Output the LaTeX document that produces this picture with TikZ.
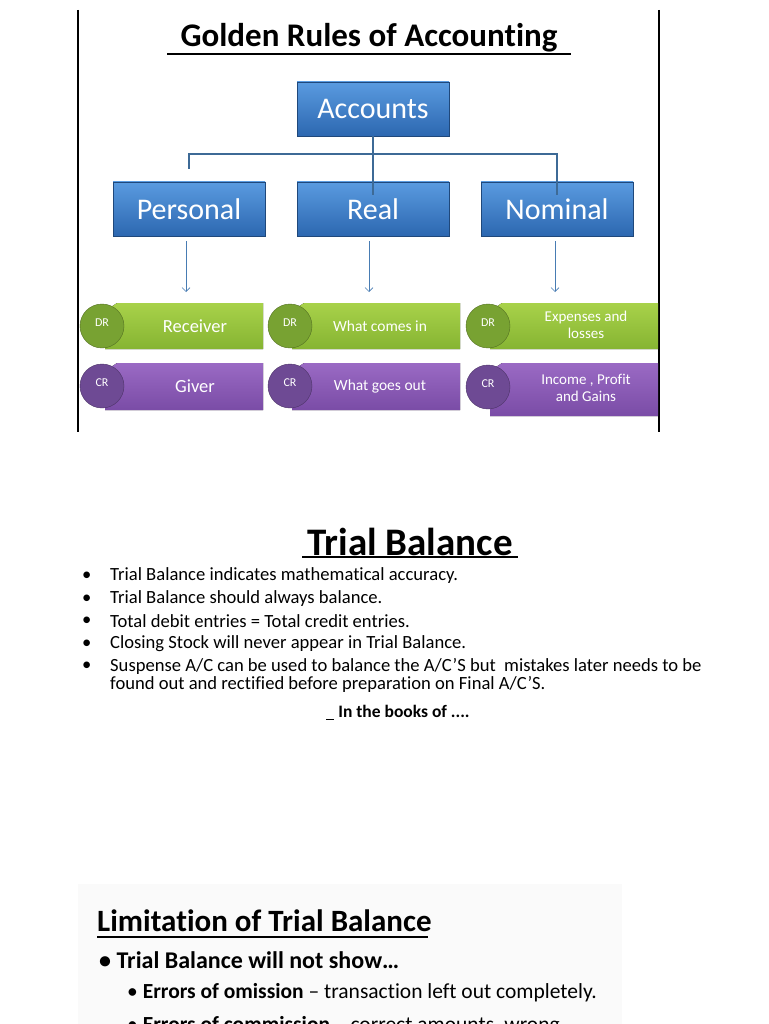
\documentclass[tikz,border=0pt]{standalone}
\usepackage{fontspec}
\setmainfont[Ligatures={NoCommon}]{Carlito}
\usetikzlibrary{arrows.meta}
\definecolor{bluetop}{HTML}{5A9BE0}
\definecolor{bluebot}{HTML}{2C67B0}
\definecolor{greentop}{HTML}{A8D24A}
\definecolor{greenbot}{HTML}{86B432}
\definecolor{purptop}{HTML}{9A6AC4}
\definecolor{purpbot}{HTML}{7A4CA6}
\definecolor{gcirc}{HTML}{78A232}
\definecolor{pcirc}{HTML}{6E4A94}
\definecolor{linec}{HTML}{3D6A96}
\tikzset{
  acc/.style={draw=bluebot!70!black, top color=bluetop, bottom color=bluebot, text=white, minimum width=152pt, minimum height=54pt, inner sep=0pt, font=\fontsize{30}{32}\selectfont},
  dr/.style={circle, draw=gcirc!70!black, fill=gcirc, minimum size=44pt, inner sep=0pt, text=white, font=\fontsize{12}{13}\selectfont},
  cr/.style={circle, draw=pcirc!70!black, fill=pcirc, minimum size=44pt, inner sep=0pt, text=white, font=\fontsize{12}{13}\selectfont},
  lbl/.style={text=white, align=center, font=\fontsize{15.5}{16}\selectfont},
  conn/.style={linec, line width=1.6pt},
  arr/.style={-{Straight Barb[length=4pt]}, draw=bluetop!80!black, line width=0.6pt},
  body/.style={anchor=west, inner sep=0pt, font=\fontsize{18.6}{20}\selectfont}
}
\newcommand{\gbar}[5]{% x0 y0 x1 y1 style
  \fill[#5] (#1,#2+8)--(#1+12,#2)--(#3,#2)--(#3,#4)--(#1,#4)--cycle;}
\begin{document}
\begin{tikzpicture}[x=1pt,y=-1pt]
\useasboundingbox (0,0) rectangle (768,1024);
\clip (0,0) rectangle (768,1024);
\fill[white] (0,0) rectangle (768,1024);
% side rules
\draw[line width=2pt] (78,10) -- (78,432);
\draw[line width=2pt] (659,10) -- (659,432);
% title
\node[font=\bfseries\fontsize{33}{35}\selectfont] (t1) at (369,38) {Golden Rules of Accounting};
\draw[line width=1.6pt] (167,54) -- (571,54);
% top boxes
\node[acc] (acc) at (373,109) {Accounts};
\node[acc] (per) at (189,209) {Personal};
\node[acc] (rea) at (373,209) {Real};
\node[acc] (nom) at (557,209) {Nominal};
\coordinate (j) at (373,154);
\draw[conn] (acc.south) -- (j);
\draw[conn] (per.north)++(0,-13) |- (j) -| ([yshift=-13pt]nom.north);
\draw[conn] (j) -- ([yshift=-13pt]rea.north);
% arrows
\coordinate (pa) at (186,292);
\coordinate (ra) at (369,292);
\coordinate (na) at (555,292);
\draw[arr] ([yshift=-5pt]per.south -| pa) -- (pa);
\draw[arr] ([yshift=-5pt]rea.south -| ra) -- (ra);
\draw[arr] ([yshift=-5pt]nom.south -| na) -- (na);
% bars
\gbar{105}{303}{263}{349}{top color=greentop, bottom color=greenbot}
\gbar{292}{303}{460}{349}{top color=greentop, bottom color=greenbot}
\gbar{490}{303}{658}{349}{top color=greentop, bottom color=greenbot}
\gbar{105}{363}{263}{410}{top color=purptop, bottom color=purpbot}
\gbar{292}{363}{460}{410}{top color=purptop, bottom color=purpbot}
\gbar{490}{363}{658}{416}{top color=purptop, bottom color=purpbot}
\node[dr] (d1) at (102,326) {\raisebox{6pt}{DR}};
\node[dr] (d2) at (290,326) {\raisebox{6pt}{DR}};
\node[dr] (d3) at (488,326) {\raisebox{6pt}{DR}};
\node[cr] (c1) at (102,386) {\raisebox{6pt}{CR}};
\node[cr] (c2) at (290,386) {\raisebox{6pt}{CR}};
\node[cr] (c3) at (488,387) {\raisebox{6pt}{CR}};
\node[lbl, font=\fontsize{18.5}{19}\selectfont] (l1) at (195,326) {Receiver};
\node[lbl] (l2) at (380,326) {What comes in};
\node[lbl, font=\fontsize{15}{17}\selectfont] (l3) at (586,325) {Expenses and\\losses};
\node[lbl, font=\fontsize{18.5}{19}\selectfont] (l4) at (195,386) {Giver};
\node[lbl] (l5) at (380,386) {What goes out};
\node[lbl, font=\fontsize{15}{17}\selectfont] (l6) at (586,388) {Income , Profit\\and Gains};
% Trial Balance
\begin{scope}
\clip (0,524) rectangle (768,1024);
\node[font=\bfseries\fontsize{39}{41}\selectfont] (t2) at (410,542) {Trial Balance};
\end{scope}
\draw[line width=2pt] (302,557) -- (518,557);
\foreach \y/\t in {576/{Trial Balance indicates mathematical accuracy.},
                   599/{Trial Balance should always balance.},
                   621/{Total debit entries = Total credit entries.},
                   644/{Closing Stock will never appear in Trial Balance.},
                   666/{Suspense A/C can be used to balance the A/C’S but\ \ mistakes later needs to be}}{
  \node[body] at (82,\y) {\textbullet};
  \node[body] at (110,\y) {\t};
}
\node[body] (s6) at (110,684) {found out and rectified before preparation on Final A/C’S.};
\node[font=\bfseries\fontsize{17.5}{19}\selectfont] (books) at (404,711) {In the books of ....};
\draw[line width=1pt] (326,719) -- (334,719);
% Limitation
\fill[black!2] (78,884) rectangle (622,1024);
\node[anchor=west, inner sep=0pt, font=\bfseries\fontsize{31}{33}\selectfont] (t3) at (97,921) {Limitation of Trial Balance};
\draw[line width=1.6pt] (97,937) -- (428,937);
\node[anchor=west, inner sep=0pt, font=\bfseries\fontsize{24}{26}\selectfont] (b1) at (99,960) {\textbullet\ Trial Balance will not show…};
\node[anchor=west, inner sep=0pt, font=\fontsize{21.5}{23}\selectfont] (b2) at (127,993) {\textbullet\ \textbf{Errors of omission} – transaction left out completely.};
\node[anchor=west, inner sep=0pt, font=\fontsize{21.5}{23}\selectfont] (b3) at (127,1026) {\textbullet\ \textbf{Errors of commission} – correct amounts, wrong};
\end{tikzpicture}
\end{document}
